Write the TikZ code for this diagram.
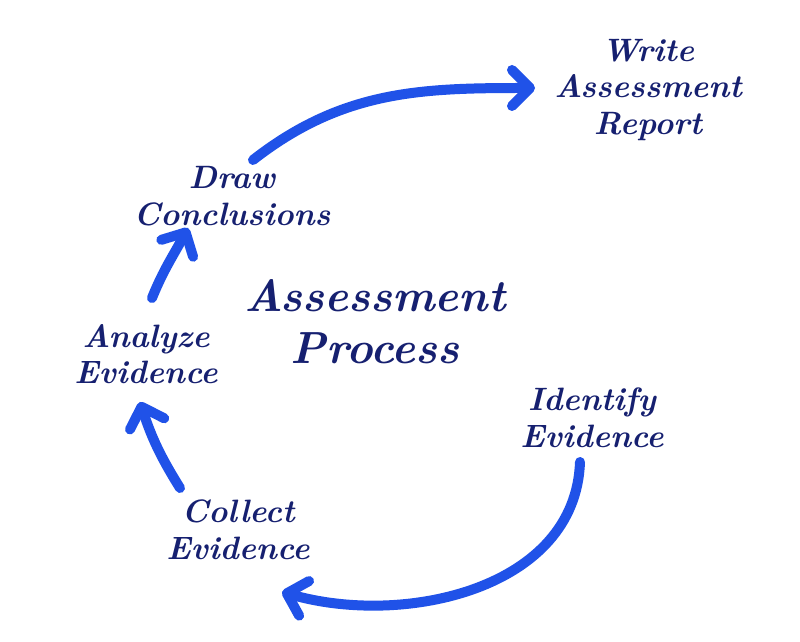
\documentclass[tikz,border=0pt]{standalone}
\usetikzlibrary{arrows.meta}
\definecolor{inkblue}{RGB}{22,32,112}
\definecolor{penblue}{RGB}{32,82,232}
\tikzset{
	label/.style={text=inkblue, align=center, font=\bfseries\itshape\fontsize{23}{26}\selectfont},
	bigtitle/.style={text=inkblue, align=center, font=\bfseries\itshape\fontsize{32}{37}\selectfont},
	flow/.style={draw=penblue, line width=0.25cm, line cap=round,
		-{Straight Barb[length=4.5mm,width=9mm,round]}}
}

\begin{document}
\begin{tikzpicture}
	\useasboundingbox[fill=white] (0,0) rectangle (20,16.05);
	
	\node[label] (report) at (16.2,13.8) {Write\\Assessment\\Report};
	\node[label] (concl) at (5.8,11.15) {Draw\\Conclusions};
	\node[bigtitle] (title) at (9.375,8.0) {Assessment\\Process};
	\node[label] (analyze) at (3.65,7.2) {Analyze\\Evidence};
	\node[label] (identify) at (14.8,5.6) {Identify\\Evidence};
	\node[label] (collect) at (5.95,2.8) {Collect\\Evidence};
	
	\draw[flow] ([shift={(0.525,0.9)}]concl.center) to[out=38,in=180] ([shift={(-2.825,0.05)}]report.center);
	\draw[flow] ([shift={(0.15,1.4)}]analyze.center) to[out=68,in=-118] ([shift={(-1.1,-0.8)}]concl.center);
	\draw[flow] ([shift={(-1.45,1.05)}]collect.center) to[out=122,in=-72] ([shift={(-0.15,-1.2)}]analyze.center);
	\draw[flow] ([shift={(-0.3,-1.1)}]identify.center) to[out=-92,in=-16] ([shift={(1.1,-1.55)}]collect.center);
\end{tikzpicture}
\end{document}
